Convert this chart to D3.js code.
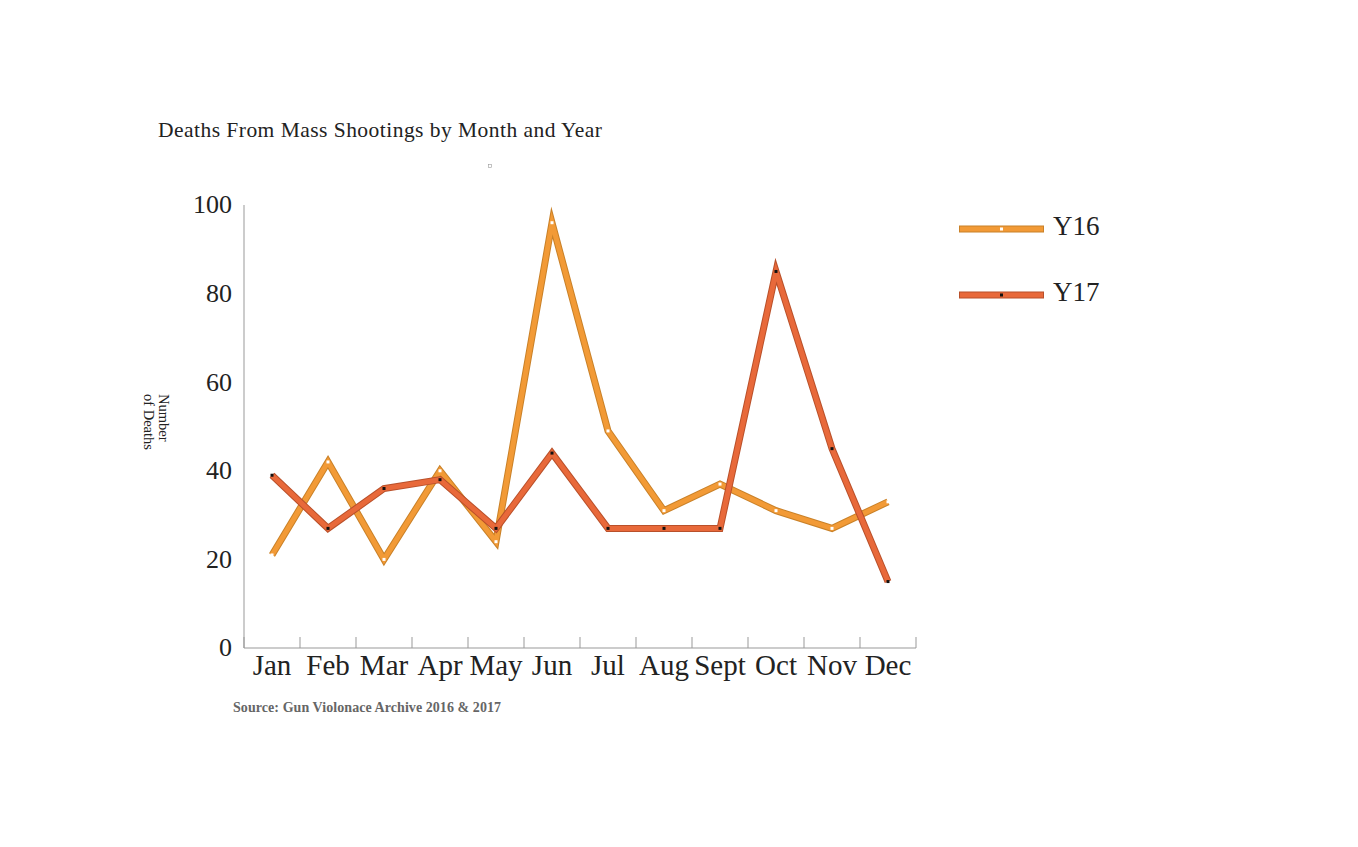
<!DOCTYPE html>
<html>
<head>
<meta charset="utf-8">
<script src="https://cdn.jsdelivr.net/npm/d3@7"></script>
<style>
  body { margin: 0; background: #fff; }
  text { font-family: "Liberation Serif", "DejaVu Serif", serif; fill: #222; }
</style>
</head>
<body>
<svg id="chart"></svg>
<script>
const months = ["Jan", "Feb", "Mar", "Apr", "May", "Jun", "Jul", "Aug", "Sept", "Oct", "Nov", "Dec"];
const y16 = [21, 42, 20, 40, 24, 96, 49, 31, 37, 31, 27, 33];
const y17 = [39, 27, 36, 38, 27, 44, 27, 27, 27, 85, 45, 15];
const yTicks = [0, 20, 40, 60, 80, 100];

const series = [
  { name: "Y16", values: y16, color: "#f29a36", edge: "#c98128", dot: "#fff" },
  { name: "Y17", values: y17, color: "#e8693a", edge: "#b9502a", dot: "#111" }
];

const W = 1358, H = 847;
const margin = { top: 205, left: 244 },
      width = 916 - 244,
      height = 648 - 205;

const root = d3.select("#chart").attr("width", W).attr("height", H);

root.append("text")
  .attr("x", 158).attr("y", 137)
  .style("font-size", "21.5px")
  .attr("textLength", 444)
  .attr("lengthAdjust", "spacing")
  .text("Deaths From Mass Shootings by Month and Year");

// tiny stray marker under the title
root.append("rect")
  .attr("x", 488.5).attr("y", 164.5).attr("width", 3).attr("height", 3)
  .attr("fill", "none").attr("stroke", "#999").attr("stroke-width", 0.6);

const svg = root.append("g")
  .attr("transform", `translate(${margin.left},${margin.top})`);

const x = d3.scaleBand().domain(months).range([0, width]).padding(0);
const y = d3.scaleLinear().domain([0, 100]).range([height, 0]);

// y axis: plain line, labels only
const yAxis = svg.append("g")
  .call(d3.axisLeft(y).tickValues(yTicks).tickSize(0).tickPadding(12));
yAxis.select(".domain").attr("stroke", "#999").attr("d", `M0,0V${height}`);
yAxis.selectAll("text")
  .style("font-family", "Liberation Serif, serif")
  .style("font-size", "26px")
  .attr("fill", "#222")
  .attr("dy", "0.3em");

// x axis: ticks point up into the plot
const xAxis = svg.append("g")
  .attr("transform", `translate(0,${height})`)
  .call(d3.axisBottom(x).tickSize(0).tickPadding(0));
xAxis.select(".domain").attr("stroke", "#999").attr("d", `M0,0H${width}`);
xAxis.selectAll("text")
  .style("font-family", "Liberation Serif, serif")
  .style("font-size", "29px")
  .attr("fill", "#222")
  .attr("y", 27)
  .attr("dy", 0);
svg.append("g")
  .selectAll("line")
  .data(months.map(m => x(m)).concat([width]))
  .join("line")
  .attr("x1", d => d).attr("x2", d => d)
  .attr("y1", height).attr("y2", height - 11)
  .attr("stroke", "#999");

// y axis title
root.append("text")
  .attr("transform", "translate(159,394) rotate(90)")
  .attr("text-anchor", "start")
  .style("font-size", "14.5px")
  .selectAll("tspan")
  .data(["Number", "of Deaths"])
  .join("tspan")
  .attr("x", 0)
  .attr("dy", (d, i) => i === 0 ? 0 : "1.05em")
  .text(d => d);

const line = d3.line()
  .x((d, i) => x(months[i]) + x.bandwidth() / 2)
  .y(d => y(d));

series.forEach(s => {
  const g = svg.append("g");
  g.append("path")
    .attr("d", line(s.values))
    .attr("fill", "none")
    .attr("stroke", s.edge)
    .attr("stroke-width", 7)
    .attr("stroke-linejoin", "miter")
    .attr("stroke-miterlimit", 10);
  g.append("path")
    .attr("d", line(s.values))
    .attr("fill", "none")
    .attr("stroke", s.color)
    .attr("stroke-width", 5)
    .attr("stroke-linejoin", "miter")
    .attr("stroke-miterlimit", 10);
  g.selectAll("rect")
    .data(s.values)
    .join("rect")
    .attr("x", (d, i) => x(months[i]) + x.bandwidth() / 2 - 1.5)
    .attr("y", d => y(d) - 1.5)
    .attr("width", 3).attr("height", 3)
    .attr("fill", s.dot);
});

// legend
const legend = root.append("g");
series.forEach((s, i) => {
  const ly = 229 + i * 66;
  legend.append("rect")
    .attr("x", 959).attr("y", ly - 3.5).attr("width", 85).attr("height", 7)
    .attr("fill", s.edge);
  legend.append("rect")
    .attr("x", 960).attr("y", ly - 2.5).attr("width", 83).attr("height", 5)
    .attr("fill", s.color);
  legend.append("rect")
    .attr("x", 1000).attr("y", ly - 1.5).attr("width", 3).attr("height", 3)
    .attr("fill", s.dot);
  legend.append("text")
    .attr("x", 1053).attr("y", ly + 6)
    .style("font-size", "27px")
    .text(s.name);
});

root.append("text")
  .attr("x", 233).attr("y", 712)
  .style("font-size", "14px")
  .style("font-weight", "bold")
  .style("fill", "#666")
  .attr("textLength", 268)
  .attr("lengthAdjust", "spacing")
  .text("Source: Gun Violonace Archive 2016 & 2017");
</script>
</body>
</html>
